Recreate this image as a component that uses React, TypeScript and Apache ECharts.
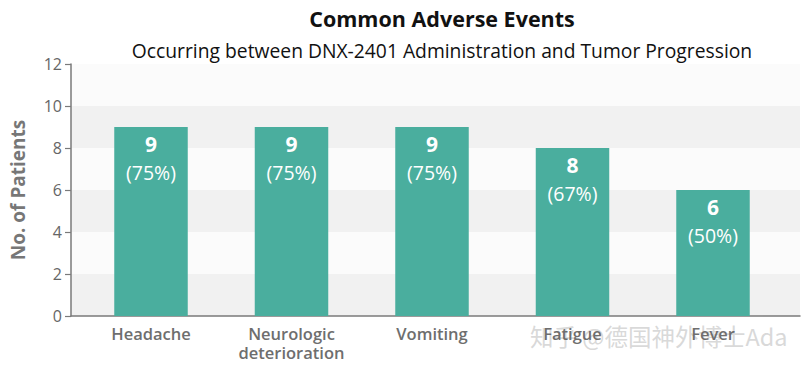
import React, { useEffect, useRef } from "react";
import * as echarts from "echarts";

const categories = ["Headache", "Neurologic\ndeterioration", "Vomiting", "Fatigue", "Fever"];
const patientCounts = [9, 9, 9, 8, 6];
const patientPercents = [75, 75, 75, 67, 50];
const titleText = "Common Adverse Events";
const subtitleText = "Occurring between DNX-2401 Administration and Tumor Progression";
const yAxisName = "No. of Patients";
const watermarkText = "知乎 @德国神外博士Ada";

const FONT = "'Open Sans', 'Noto Sans', sans-serif";

export default function App() {
  const ref = useRef<HTMLDivElement>(null);
  useEffect(() => {
    if (!ref.current) return;
    const chart = echarts.init(ref.current, null, { renderer: "svg" });
    chart.setOption({
      animation: false,
      backgroundColor: "#ffffff",
      textStyle: { fontFamily: FONT },
      title: [
        {
          text: titleText,
          left: 437,
          top: 2,
          textAlign: "center",
          textStyle: { fontFamily: FONT, fontSize: 21.5, fontWeight: "bold", color: "#111" },
        },
        {
          text: subtitleText,
          left: 437,
          top: 36,
          textAlign: "center",
          textStyle: { fontFamily: FONT, fontSize: 19.3, fontWeight: "normal", color: "#111" },
        },
      ],
      grid: [
        { left: 70, top: 64, width: 730, height: 252 },
        { left: 80.75, top: 64, width: 702.5, height: 252 },
      ],
      xAxis: [
        {
          gridIndex: 0,
          type: "category",
          data: categories,
          axisLine: { show: true, lineStyle: { color: "#7a7a7a", width: 1.5 } },
          axisTick: { show: false },
          axisLabel: { show: false },
          splitLine: { show: false },
        },
        {
          gridIndex: 1,
          type: "category",
          data: categories,
          axisLine: { show: false },
          axisTick: { show: false },
          axisLabel: {
            show: true,
            margin: 8,
            fontFamily: FONT,
            fontSize: 16.5,
            fontWeight: 600,
            color: "#6e6e6e",
            lineHeight: 19,
          },
        },
      ],
      yAxis: [
        {
          gridIndex: 0,
          type: "value",
          min: 0,
          max: 12,
          interval: 2,
          name: yAxisName,
          nameLocation: "middle",
          nameGap: 44,
          nameRotate: 90,
          nameTextStyle: { fontFamily: FONT, fontSize: 19, fontWeight: "bold", color: "#777" },
          axisLine: { show: true, lineStyle: { color: "#7a7a7a", width: 1.5 } },
          axisTick: { show: true, length: 6, lineStyle: { color: "#7a7a7a", width: 1.2 } },
          axisLabel: { fontFamily: FONT, fontSize: 16, color: "#666", margin: 9 },
          splitLine: { show: false },
          splitArea: { show: true, areaStyle: { color: ["#f1f1f1", "#fbfbfb"] } },
        },
        {
          gridIndex: 1,
          type: "value",
          min: 0,
          max: 12,
          interval: 2,
          show: false,
          splitLine: { show: false },
        },
      ],
      series: [
        {
          type: "bar",
          xAxisIndex: 1,
          yAxisIndex: 1,
          data: patientCounts,
          barWidth: 73.5,
          itemStyle: { color: "#4aae9e" },
          label: {
            show: true,
            position: "insideTop",
            distance: 4,
            formatter: (p: any) => `{n|${p.value}}\n{p|(${patientPercents[p.dataIndex]}%)}`,
            rich: {
              n: { fontFamily: FONT, fontSize: 21, fontWeight: "bold", color: "#fff", lineHeight: 26 },
              p: { fontFamily: FONT, fontSize: 19.5, color: "#fff", lineHeight: 30 },
            },
          },
        },
      ],
      graphic: [
        {
          type: "text",
          left: 530,
          top: 324,
          silent: true,
          style: {
            text: watermarkText,
            fontFamily: "'Noto Sans CJK SC', sans-serif",
            fontSize: 23.5,
            fill: "rgba(200,200,200,0.7)",
          },
        },
      ],
    });
    return () => chart.dispose();
  }, []);
  return (
    <div
      ref={ref}
      style={{ position: "fixed", left: 0, top: 0, width: 807, height: 374 }}
    />
  );
}
